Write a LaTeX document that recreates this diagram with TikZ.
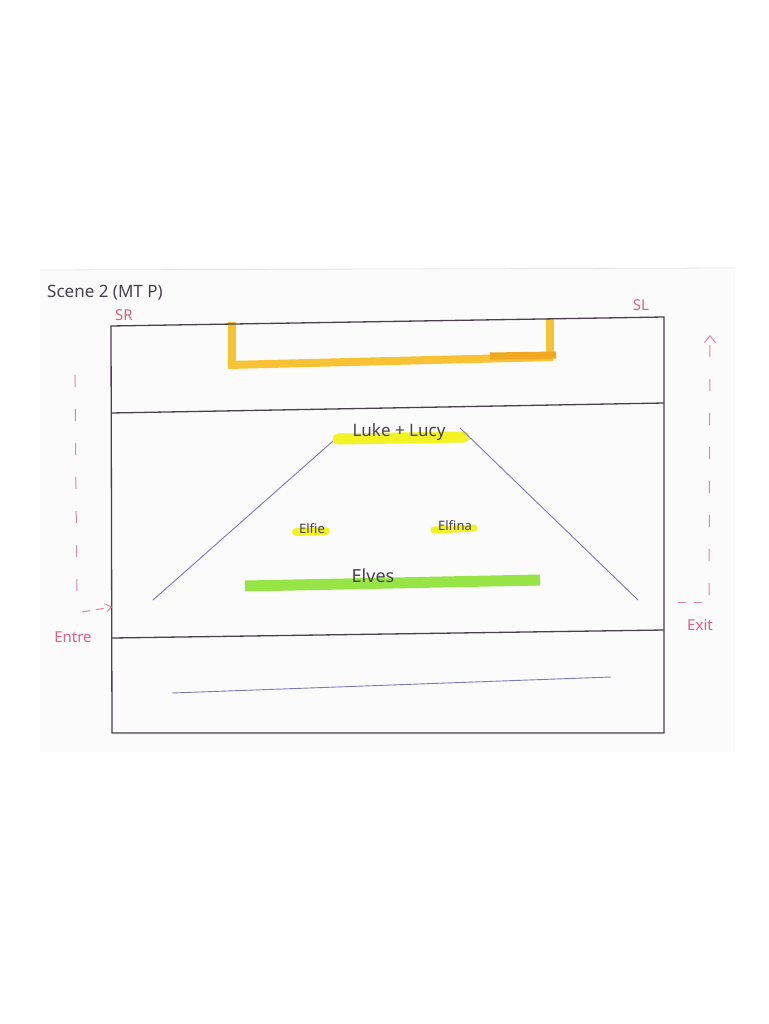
\documentclass[tikz,border=0pt]{standalone}
\usepackage{fontspec}
\setmainfont{Noto Sans}
\usetikzlibrary{arrows.meta}
\definecolor{ink}{HTML}{4A3F4C}
\definecolor{pinkink}{HTML}{E0607F}
\definecolor{pinkdash}{HTML}{E6869E}
\definecolor{blueink}{HTML}{7C78C4}
\definecolor{hiyellow}{HTML}{F2F225}
\definecolor{hiorange}{HTML}{F7C234}
\definecolor{hiorangedark}{HTML}{F0A820}
\definecolor{higreen}{HTML}{96E445}
\definecolor{paper}{HTML}{FBFBFB}
\tikzset{
  frame/.style={draw=ink, line width=1.3pt},
  cue/.style={draw=pinkdash, line width=1pt, dash pattern=on 12pt off 22pt},
  sight/.style={draw=blueink, line width=0.9pt},
  inklabel/.style={text=ink, font=\fontsize{17}{19}\selectfont, inner sep=1pt},
  pinklabel/.style={text=pinkink, font=\fontsize{15}{17}\selectfont, inner sep=1pt},
  hilite/.style={line cap=round},
}
\begin{document}
\begin{tikzpicture}[x=1pt,y=-1pt]
\useasboundingbox (0,0) rectangle (768,1024);
\fill[white] (0,0) rectangle (768,1024);
\fill[paper] (40,270) rectangle (735,752);
\draw[black!10, line width=0.8pt] (40,270) -- (735,268);

% title and side labels
\node[inklabel, anchor=west] (title) at (46,293) {Scene 2 (MT P)};
\node[pinklabel] (sr) at (124,315) {SR};
\node[pinklabel] (sl) at (641,305) {SL};

% orange masking border (top)
\draw[hiorange, line width=8pt] (232,322) -- (232,368);
\draw[hiorange, line width=8pt] (228,365) -- (553,357);
\draw[hiorange, line width=8pt] (550,318) -- (550,358);
\draw[hiorangedark, line width=7pt] (490,356) -- (556,355);

% stage frame
\coordinate (tl) at (111,326);
\coordinate (tr) at (664,317);
\coordinate (br) at (664,733);
\coordinate (bl) at (112,733);
\draw[frame] (tl) -- (tr) -- (br) -- (bl) -- cycle;
\coordinate (d1l) at (111,413);
\coordinate (d1r) at (664,403);
\draw[frame] (d1l) -- (d1r);
\coordinate (d2l) at (112,638);
\coordinate (d2r) at (664,630);
\draw[frame] (d2l) -- (d2r);

% highlights
\draw[hiyellow, line width=11pt, hilite] (338,439) -- (464,437);
\draw[hiyellow, line width=8pt, hilite] (296,532) -- (326,531);
\draw[hiyellow, line width=7pt, hilite] (434,530) -- (474,528);
\draw[higreen, line width=11pt] (245,586) -- (540,580);

% performers
\node[inklabel] (luke) at (399,432) {Luke + Lucy};
\node[inklabel, font=\fontsize{13}{15}\selectfont] (elfie) at (312,529) {Elfie};
\node[inklabel, font=\fontsize{13}{15}\selectfont] (elfina) at (455,526) {Elfina};
\node[inklabel, font=\fontsize{18}{20}\selectfont] (elves) at (373,576) {Elves};

% sight lines
\coordinate (lukel) at (333,441);
\coordinate (luker) at (460,428);
\coordinate (sll) at (153,600);
\coordinate (slr) at (638,600);
\draw[sight] (lukel) -- (sll);
\draw[sight] (luker) -- (slr);
\coordinate (fl) at (172,693);
\coordinate (fr) at (611,677);
\draw[sight] (fl) -- (fr);

% entrance cue (left)
\coordinate (en1) at (75,375);
\coordinate (en2) at (77,600);
\coordinate (en3) at (82,612);
\coordinate (en4) at (112,607);
\draw[cue] (en1) -- (en2);
\draw[cue, dash pattern=on 8pt off 6pt, -{Straight Barb[length=5pt,width=8pt]}] (en3) -- (en4);
\node[pinklabel] (entre) at (73,637) {Entre};

% exit cue (right)
\coordinate (ex1) at (678,602);
\coordinate (ex2) at (706,602);
\coordinate (ex3) at (709,595);
\coordinate (ex4) at (710,335);
\draw[cue, dash pattern=on 8pt off 8pt] (ex1) -- (ex2);
\draw[cue, -{Straight Barb[length=7pt,width=11pt]}] (ex3) -- (ex4);
\node[pinklabel] (exit) at (700,625) {Exit};
\end{tikzpicture}
\end{document}
